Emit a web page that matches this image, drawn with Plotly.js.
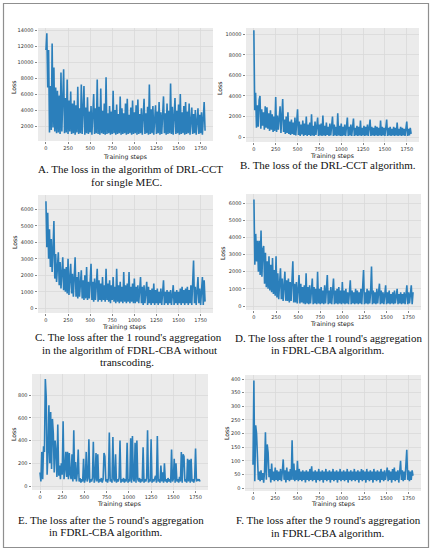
<!DOCTYPE html>
<html>
<head>
<meta charset="utf-8">
<script src="https://cdn.plot.ly/plotly-3.0.1.min.js"></script>
<style>
html,body{margin:0;padding:0;background:#fff;}
#chart{width:434px;height:550px;}
</style>
</head>
<body>
<div id="chart"></div>
<script>
// Training step interval between recorded loss values
var stepInterval = 10;

// A. DRL-CCT for single MEC
var lossA = [
11500,13600,6800,11500,1200,7000,1500,12300,1800,9300,1300,6800,1100,6400,1200,5800,1000,8700,1300,6200,
9100,1100,5500,1200,7800,1000,5200,1300,6300,1000,4800,1100,5200,900,4600,1200,6900,1000,4200,1100,
7200,1000,5000,7000,900,4300,1100,5600,1000,3800,1200,4500,900,3600,6000,1000,4200,1100,7800,1000,
4400,900,6700,1100,3900,1000,4800,900,8100,1000,3600,1100,4500,900,3800,1000,6400,1100,4000,900,
4700,1000,3500,1100,5700,900,4200,1000,3600,1100,4800,900,5400,1000,3400,1100,4300,900,5200,1000,
3700,1100,4600,900,5300,1000,3500,1100,4200,900,3900,5400,1000,3600,1100,4400,900,7200,1000,4100,
1100,4500,900,3500,4600,1000,3800,1100,5000,900,3700,1000,4300,5700,1100,3600,900,4800,1000,3900,
1100,7300,1000,4400,900,3600,5500,1000,3900,1100,4700,900,6000,1000,3700,1100,4500,900,5000,1000,
3800,1100,4800,900,3600,4300,1000,3500,1100,4000,900,3300,4200,1000,3400,1100,3700,900,3000,5000,
1400];

// B. DRL-CCT
var lossB = [
10400,2600,4300,900,3100,1000,3600,4000,800,2700,1100,2400,700,3000,900,2900,800,2300,600,2600,
700,2200,500,2000,600,3900,500,2100,700,1800,3000,400,1900,3700,500,1700,300,2000,400,2400,
300,1500,200,1700,300,1400,200,1900,150,1300,2700,200,1500,100,1200,250,1600,100,1300,200,
2000,100,1200,200,1400,100,2200,150,1100,100,1500,200,1000,1900,100,1200,150,1300,100,2100,
150,1100,100,1400,200,1000,100,1300,150,1100,2000,100,1200,150,1000,100,2300,150,1100,100,
1300,100,1000,150,1200,100,1100,1900,100,1000,150,1200,100,1000,1800,100,900,150,1100,100,
1000,150,1600,100,900,150,1100,100,1000,150,1200,100,900,1700,100,1000,150,900,100,1100,
150,1000,100,900,150,1600,100,1000,150,900,100,1100,1700,100,900,150,1000,100,800,150,
1000,100,900,150,1400,100,800,150,1000,100,900,150,800,100,1000,1500,100,800,150,900,
300];

// C. FDRL-CBA without transcoding, 1 round
var lossC = [
6500,3700,5800,3000,4800,2500,4200,2200,3600,5300,1800,3300,1600,3000,3400,1400,2800,1200,2600,3100,
1100,2400,1000,2500,900,3000,800,2200,2700,900,2100,700,2300,3100,700,1900,600,2200,700,1800,
2300,600,1700,500,2000,600,2500,500,1600,600,1900,2700,500,1600,400,1800,500,1500,2400,400,
1700,500,1500,400,1900,500,1400,400,2400,500,1500,400,1700,300,1400,500,1900,400,1300,300,
2400,400,1400,300,1600,400,1300,300,2200,400,1400,300,1500,400,2200,300,1300,400,1500,300,
1800,300,1300,400,1400,300,1200,1900,300,1300,200,1400,300,1200,1600,200,1300,300,1100,200,
1200,300,1500,200,1100,300,1200,200,1000,300,1200,200,1100,1700,200,1000,300,1100,200,1000,
300,1100,200,1000,1400,200,1000,300,1100,200,1000,300,1200,200,1300,300,1100,200,1200,300,
1300,200,1100,300,1400,200,1600,2900,300,1300,200,1500,1900,300,1200,200,1100,1900,200,1700,
400];

// D. FDRL-CBA, 1 round
var lossD = [
6200,2400,4200,2600,3800,2000,3800,1800,4400,1700,3300,3500,1300,3100,1100,2600,1000,2900,900,2400,
800,2800,700,2100,600,2900,500,1900,400,1800,2200,400,1600,300,1700,2000,300,1500,300,1600,
200,1400,300,1500,2600,200,1300,200,1400,150,1200,1800,150,1300,200,1100,150,1200,100,1900,
150,1100,100,1200,150,1000,1600,100,1100,150,1000,100,2000,150,1000,100,1100,150,900,100,
1200,150,1000,1800,100,900,150,1100,100,1000,1600,100,900,150,1000,100,1100,150,900,100,
1400,150,900,100,1000,150,800,100,1000,1500,100,900,150,800,100,1000,150,900,100,800,
150,1000,100,900,2100,100,800,150,1000,100,900,150,800,2300,100,900,150,800,100,1000,
150,800,1300,100,900,150,800,100,900,1200,100,800,150,900,100,700,150,800,100,900,
150,800,1000,100,700,150,800,100,700,150,800,100,700,1200,100,800,150,700,1200,100,
800];

// E. FDRL-CBA, 5 rounds
var lossE = [
120,40,300,60,350,300,940,780,100,300,710,200,650,150,590,460,120,400,300,80,
540,90,180,60,200,100,570,60,150,300,80,300,60,290,100,60,280,40,490,60,
210,40,120,320,40,70,30,60,40,240,30,60,300,40,70,410,30,60,40,70,
390,30,60,290,40,280,30,60,40,70,30,60,290,260,40,60,30,70,470,40,
60,30,430,60,40,280,30,60,40,70,400,30,60,40,70,30,60,40,380,30,
60,40,420,30,440,60,40,380,30,400,60,40,70,30,60,40,340,30,60,40,
70,490,30,60,40,410,30,60,40,70,90,30,440,40,60,30,180,40,120,30,
200,40,60,30,70,40,60,30,320,40,60,240,30,200,40,60,30,80,40,300,
30,280,260,40,60,30,240,40,230,30,240,40,60,30,70,330,40,60,50,60,
40];

// F. FDRL-CBA, 9 rounds
var lossF = [
85,395,25,230,200,110,30,60,25,65,30,55,20,60,205,30,160,130,40,70,
20,90,30,60,25,75,30,65,25,60,30,70,25,60,105,30,65,20,75,30,
60,25,70,30,175,30,90,25,65,30,100,25,70,30,60,25,65,30,60,20,
65,30,60,25,70,30,80,25,60,30,65,20,60,30,70,25,60,30,65,20,
60,30,70,25,60,30,65,20,60,30,70,25,60,30,65,20,60,30,70,25,
60,30,65,25,60,30,70,20,60,30,65,25,60,30,70,25,60,30,65,20,
60,30,70,25,65,30,60,20,70,30,60,25,65,30,60,20,70,30,60,25,
65,30,60,20,70,30,60,25,65,30,60,75,25,65,30,60,20,70,30,75,
25,60,30,65,20,60,100,30,65,25,60,30,70,140,30,65,25,60,30,65,
45];

var xTickVals = [0,250,500,750,1000,1250,1500,1750];
var yTicksA = [2000,4000,6000,8000,10000,12000,14000];
var yTicksB = [0,2000,4000,6000,8000,10000];
var yTicksC = [0,1000,2000,3000,4000,5000,6000];
var yTicksD = [0,1000,2000,3000,4000,5000,6000];
var yTicksE = [0,200,400,600,800];
var yTicksF = [0,50,100,150,200,250,300,350,400];

var captions = [
  ["A. The loss in the algorithm of DRL-CCT", "for single MEC."],
  ["B. The loss of the DRL-CCT algorithm."],
  ["C. The loss after the 1 round's aggregation", "in the algorithm of FDRL-CBA without", "transcoding."],
  ["D. The loss after the 1 round's aggregation", "in FDRL-CBA algorithm."],
  ["E. The loss after the 5 round's aggregation", "in FDRL-CBA algorithm."],
  ["F. The loss after the 9 round's aggregation", "in FDRL-CBA algorithm."]
];

var W = 434, H = 550;
function px(x){ return x / W; }
function py(y){ return 1 - y / H; }

var series = [lossA, lossB, lossC, lossD, lossE, lossF];
var yTicks = [yTicksA, yTicksB, yTicksC, yTicksD, yTicksE, yTicksF];

// panel geometry (pixels)
var panels = [
  {l:38, r:213, t:28, b:141, yr:[125,14250], xt:[125,156.5], yt:[13,87], cap:[[130.5,168.5],[126,181.5]]},
  {l:246, r:419, t:28, b:142, yr:[-487,10613], xt:[332,156], yt:[219,88], cap:[[327.5,164.5]]},
  {l:38, r:213, t:195, b:313, yr:[-290,6880], xt:[124,327], yt:[15,242], cap:[[128,337],[129,349.5],[127,362]]},
  {l:246, r:421, t:194, b:310, yr:[-233,6524], xt:[332,324], yt:[223,253], cap:[[328,337.5],[328,350]]},
  {l:32, r:208, t:374, b:490, yr:[-35,985], xt:[119,504], yt:[13,434], cap:[[111,519.5],[106,532]]},
  {l:245, r:421, t:375, b:491, yr:[-11,415], xt:[333,504], yt:[226,433], cap:[[328,520],[328,532.5]]}
];

var traces = [];
var layout = {
  width: W, height: H,
  margin: {l:0, r:0, t:0, b:0},
  paper_bgcolor: '#ffffff',
  plot_bgcolor: '#ebebeb',
  showlegend: false,
  annotations: [],
  shapes: [{
    type:'rect', xref:'paper', yref:'paper',
    x0: px(3.5), x1: px(428.5), y0: py(547.5), y1: py(3.5),
    line:{color:'#8f8f8f', width:1.2}
  }]
};

var tickFont = {family:'DejaVu Sans', size:5, color:'#333333'};
var labFont = {family:'DejaVu Sans', size:6.2, color:'#222222'};
var capFont = {family:'Liberation Serif, Times New Roman, serif', size:11, color:'#111111'};

for (var k = 0; k < 6; k++) {
  var p = panels[k];
  var ys = series[k];
  var xs = ys.map(function(_, i){ return i * stepInterval; });
  var sfx = k === 0 ? '' : String(k + 1);
  traces.push({
    type:'scatter', mode:'lines', x: xs, y: ys,
    xaxis: 'x' + sfx, yaxis: 'y' + sfx,
    line: {color:'#2b7fbb', width:1.6},
    hoverinfo:'skip'
  });
  layout['xaxis' + sfx] = {
    domain:[px(p.l), px(p.r)], anchor:'y' + sfx, range:[-90, 1890],
    tickvals: xTickVals, ticktext: xTickVals.map(String),
    ticks:'outside', ticklen:2, tickwidth:0.8, tickcolor:'#666666',
    tickfont: tickFont, showgrid:true, gridcolor:'#d9d9d9', gridwidth:0.8,
    zeroline:false, showline:false, fixedrange:true
  };
  layout['yaxis' + sfx] = {
    domain:[py(p.b), py(p.t)], anchor:'x' + sfx, range:p.yr,
    tickvals: yTicks[k], ticktext: yTicks[k].map(String),
    ticks:'outside', ticklen:2.5, tickwidth:0.8, tickcolor:'#666666',
    tickfont: tickFont, showgrid:true, gridcolor:'#d9d9d9', gridwidth:0.8,
    zeroline:false, showline:false, fixedrange:true
  };
  layout.annotations.push({
    xref:'paper', yref:'paper', x:px(p.xt[0]), y:py(p.xt[1]),
    xanchor:'center', yanchor:'middle', showarrow:false,
    text:'Training steps', font:labFont
  });
  layout.annotations.push({
    xref:'paper', yref:'paper', x:px(p.yt[0]), y:py(p.yt[1]),
    xanchor:'center', yanchor:'middle', showarrow:false, textangle:-90,
    text:'Loss', font:labFont
  });
  for (var j = 0; j < captions[k].length; j++) {
    layout.annotations.push({
      xref:'paper', yref:'paper', x:px(p.cap[j][0]), y:py(p.cap[j][1]),
      xanchor:'center', yanchor:'middle', showarrow:false,
      text: captions[k][j], font: capFont
    });
  }
}

Plotly.newPlot('chart', traces, layout, {displayModeBar:false, staticPlot:true});
</script>
</body>
</html>
